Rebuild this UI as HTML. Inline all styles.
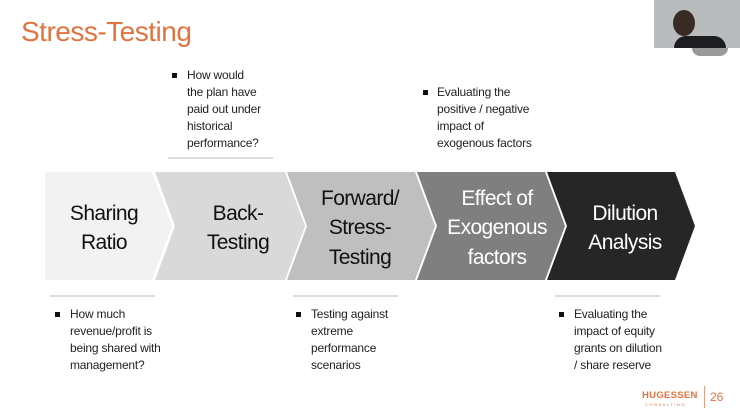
<!DOCTYPE html>
<html><head><style>
body{margin:0;width:740px;height:416px;background:#fff;position:relative;overflow:hidden;font-family:"Liberation Sans",sans-serif}
.t{position:absolute;font-size:12px;line-height:17px;color:#222;letter-spacing:-0.2px}
.b{position:absolute;width:5px;height:5px;background:#111}
.l{position:absolute;height:2px;background:#ddd}
</style></head><body>
<div style="position:absolute;left:21px;top:16px;font-size:28px;color:#e2733f;letter-spacing:-0.5px">Stress-Testing</div>
<div style="position:absolute;left:654px;top:0;width:86px;height:48px;background:#b9bcbd"></div>
<div style="position:absolute;left:673px;top:10px;width:22px;height:26px;border-radius:50%;background:#3a2a24"></div>
<div style="position:absolute;left:674px;top:36px;width:52px;height:12px;border-radius:20px 20px 0 0;background:#1e1e22"></div>
<div style="position:absolute;left:692px;top:48px;width:36px;height:8px;border-radius:0 0 18px 18px;background:#9a9a9a"></div>
<svg style="position:absolute;left:0;top:0" width="740" height="416">
<polygon points="45,172 152,172 172,226 152,280 45,280" fill="#f2f2f2"/>
<polygon points="155,172 285,172 305,226 285,280 155,280 175,226" fill="#d9d9d9"/>
<polygon points="287,172 415,172 435,226 415,280 287,280 307,226" fill="#bfbfbf"/>
<polygon points="417,172 545,172 565,226 545,280 417,280 437,226" fill="#7f7f7f"/>
<polygon points="547,172 675,172 695,226 675,280 547,280 567,226" fill="#262626"/>
<g font-family="Liberation Sans,sans-serif" font-size="21" text-anchor="middle" letter-spacing="-0.6">
<text x="104" y="220" fill="#111">Sharing</text><text x="104" y="249" fill="#111">Ratio</text>
<text x="238" y="220" fill="#111">Back-</text><text x="238" y="249" fill="#111">Testing</text>
<text x="360" y="205" fill="#111">Forward/</text><text x="360" y="234" fill="#111">Stress-</text><text x="360" y="264" fill="#111">Testing</text>
<text x="497" y="205" fill="#fff">Effect of</text><text x="497" y="234" fill="#fff">Exogenous</text><text x="497" y="264" fill="#fff">factors</text>
<text x="625" y="220" fill="#fff">Dilution</text><text x="625" y="249" fill="#fff">Analysis</text>
</g>
</svg>
<div class="l" style="left:168px;top:157px;width:105px"></div>
<div class="l" style="left:50px;top:295px;width:105px"></div>
<div class="l" style="left:293px;top:295px;width:105px"></div>
<div class="l" style="left:555px;top:295px;width:105px"></div>
<div class="b" style="left:172px;top:73px"></div>
<div class="t" style="left:187px;top:67px">How would<br>the plan have<br>paid out under<br>historical<br>performance?</div>
<div class="b" style="left:423px;top:90px"></div>
<div class="t" style="left:437px;top:84px">Evaluating the<br>positive / negative<br>impact of<br>exogenous factors</div>
<div class="b" style="left:55px;top:312px"></div>
<div class="t" style="left:70px;top:306px">How much<br>revenue/profit is<br>being shared with<br>management?</div>
<div class="b" style="left:296px;top:312px"></div>
<div class="t" style="left:311px;top:306px">Testing against<br>extreme<br>performance<br>scenarios</div>
<div class="b" style="left:559px;top:312px"></div>
<div class="t" style="left:574px;top:306px">Evaluating the<br>impact of equity<br>grants on dilution<br>/ share reserve</div>
<div style="position:absolute;left:642px;top:390px;font-size:9.5px;color:#e2733f;font-weight:bold;letter-spacing:0.3px">HUGESSEN</div>
<div style="position:absolute;left:645px;top:402px;font-size:4px;color:#e2733f;letter-spacing:1.5px">CONSULTING</div>
<div style="position:absolute;left:704px;top:386px;width:1px;height:22px;background:#e8a080"></div>
<div style="position:absolute;left:710px;top:390px;font-size:12px;color:#e2733f">26</div>
</body></html>
